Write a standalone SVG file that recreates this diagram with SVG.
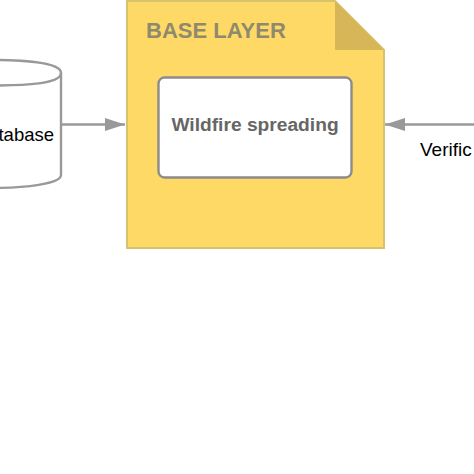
<svg xmlns="http://www.w3.org/2000/svg" width="474" height="474" viewBox="0 0 474 474">
<style>
.t{font-family:"Liberation Sans",Arial,sans-serif}
.line{fill:none;stroke:#999;stroke-width:2.4}
</style>
<defs>
<marker id="a" markerUnits="userSpaceOnUse" markerWidth="20" markerHeight="16" refX="20" refY="8" orient="auto-start-reverse"><path d="M0 1.500L20 8L0 14.500Z" fill="#999"/></marker>
</defs>
<rect width="474" height="474" fill="#fff"/>
<g id="database">
<path class="line" d="M-10 60C20 60 61 62 61 73V175C61 184 25 188 -10 188"/>
<path class="line" d="M-10 85.500C25 85.500 61 84 61 73"/>
<text class="t" x="54" y="141" font-size="18.500" text-anchor="end" fill="#000">tabase</text>
</g>
<g id="base-layer">
<path d="M127 1H335L384 50V248H127Z" fill="#ffd966" stroke="#d6c26f" stroke-width="2"/>
<path d="M335 1L384 50H335Z" fill="#d6b656"/>
<text class="t" x="146" y="38" font-size="22" font-weight="bold" fill="#8f8a6e">BASE LAYER</text>
</g>
<g id="wildfire">
<rect x="158.500" y="77.500" width="193" height="100" rx="6" fill="#fff" stroke="#8c8c8c" stroke-width="2.400"/>
<text class="t" x="255" y="131" font-size="19.200" font-weight="bold" text-anchor="middle" fill="#666">Wildfire spreading</text>
</g>
<g id="connectors">
<path class="line" d="M62 124.500H125" marker-end="url(#a)"/>
<path class="line" d="M474 124.500H385" marker-end="url(#a)"/>
</g>
<g id="verific">
<text class="t" x="420" y="156" font-size="19" fill="#000">Verific</text>
</g>
</svg>
